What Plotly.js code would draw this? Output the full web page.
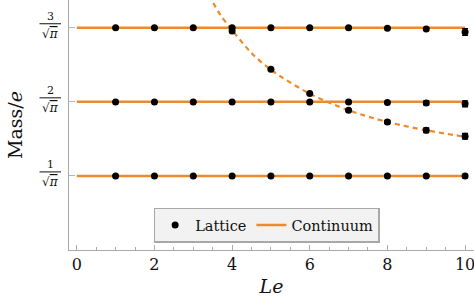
<!DOCTYPE html>
<html>
<head>
<meta charset="utf-8">
<script src="https://cdn.plot.ly/plotly-3.0.1.min.js"></script>
<style>html,body{margin:0;padding:0;background:#fff;}#chart{width:474px;height:305px;}</style>
</head>
<body>
<div id="chart"></div>
<script>
// Lattice data (L e, Mass/e, error)
const latticeX = [1,2,3,4,5,6,7,8,9,10,
                  1,2,3,4,5,6,7,8,9,10,
                  1,2,3,4,5,6,7,8,9,10,
                  4,5,6,7,8,9,10];
const latticeY = [0.564,0.564,0.564,0.564,0.564,0.564,0.564,0.564,0.564,0.563,
                  1.128,1.128,1.128,1.128,1.128,1.128,1.128,1.124,1.120,1.113,
                  1.693,1.693,1.693,1.693,1.693,1.693,1.693,1.688,1.683,1.660,
                  1.668,1.376,1.191,1.064,0.975,0.912,0.866];
const latticeErr = [0.002,0.002,0.002,0.002,0.002,0.003,0.003,0.004,0.008,0.012,
                    0.002,0.002,0.003,0.003,0.004,0.004,0.005,0.008,0.015,0.022,
                    0.002,0.003,0.003,0.004,0.004,0.005,0.006,0.006,0.010,0.025,
                    0.010,0.006,0.006,0.008,0.012,0.018,0.022];
// Continuum levels n/sqrt(pi)
const levelVals = [0.5642, 1.1284, 1.6926];
const levelNums = ["1", "2", "3"];
const levelX = [0, 10];
// Continuum dashed curve
const curveX = [3.40, 3.47, 3.70, 3.95, 4.50, 5.00, 6.00, 7.00, 8.00, 9.00, 10.00];
const curveY = [1.940, 1.904, 1.790, 1.693, 1.500, 1.372, 1.190, 1.064, 0.975, 0.912, 0.862];
const xTickVals = [0,2,4,6,8,10];

const orange = '#EE8A2C';
const serif = 'DejaVu Serif, serif';
const ink = '#111';

const contX = [], contY = [];
levelVals.forEach((v, i) => {
  contX.push(levelX[0], levelX[1], null);
  contY.push(v, v, null);
});

const traces = [
  {x: contX, y: contY, mode: 'lines', name: 'Continuum',
   line: {color: orange, width: 2.5}, showlegend: true, legendrank: 2},
  {x: curveX, y: curveY, mode: 'lines', showlegend: false,
   line: {color: orange, width: 2.2, dash: '5px,4px', shape: 'spline', smoothing: 0.8}},
  {x: latticeX, y: latticeY, mode: 'markers', name: 'Lattice', legendrank: 1,
   marker: {color: 'black', size: 7},
   error_y: {type: 'data', array: latticeErr, visible: true, color: 'black', thickness: 1.3, width: 3}}
];

const annotations = [];
levelVals.forEach((v, i) => {
  annotations.push({xref: 'paper', yref: 'y', x: 0, y: v, xanchor: 'center', yanchor: 'middle',
    xshift: -19, yshift: 11, showarrow: false, text: levelNums[i],
    font: {family: serif, size: 11, color: ink}});
  annotations.push({xref: 'paper', yref: 'y', x: 0, y: v, xanchor: 'center', yanchor: 'middle',
    xshift: -19, yshift: -6, showarrow: false,
    text: '√<span style="text-decoration:overline"><i>π</i></span>',
    font: {family: serif, size: 12, color: ink}});
  annotations.push({xref: 'paper', yref: 'y', x: 0, y: v, xshift: -8, yshift: 4,
    showarrow: true, arrowhead: 0, arrowwidth: 1, arrowcolor: ink, standoff: 0, startstandoff: 0,
    ax: -23, ay: 0, text: ''});
});

const layout = {
  width: 474, height: 305,
  margin: {l: 69, r: 0, t: 0, b: 55},
  paper_bgcolor: '#fff', plot_bgcolor: '#fff',
  font: {family: serif, color: ink},
  showlegend: true,
  legend: {orientation: 'h', x: 0.488, xanchor: 'center', y: 0.03, yanchor: 'bottom',
    bgcolor: '#f2f2f2', bordercolor: '#a8a8a8', borderwidth: 1.5,
    font: {family: serif, size: 14.5, color: ink}, itemwidth: 30, traceorder: 'normal'},
  xaxis: {range: [-0.2, 10.23], showgrid: false, zeroline: false,
    showline: true, linecolor: '#aaaaaa', linewidth: 1.2,
    ticks: 'inside', ticklen: 5, tickcolor: '#aaaaaa', tickvals: xTickVals,
    ticklabeloverflow: 'allow',
    minor: {dtick: 0.5, ticks: 'inside', ticklen: 3, tickcolor: '#aaaaaa', showgrid: false},
    tickfont: {family: serif, size: 16, color: ink},
    title: {text: '<i>Le</i>', font: {family: serif, size: 19, color: ink}, standoff: 6}},
  yaxis: {range: [0, 1.904], showgrid: false, zeroline: false,
    showline: true, linecolor: '#aaaaaa', linewidth: 1.2,
    ticks: 'inside', ticklen: 6, tickcolor: '#a9b9cc', tickvals: levelVals,
    showticklabels: false,
    title: {text: 'Mass/<i>e</i>', font: {family: serif, size: 19, color: ink}, standoff: 40}},
  annotations: annotations
};

Plotly.newPlot('chart', traces, layout, {displayModeBar: false, staticPlot: true});
</script>
</body>
</html>
